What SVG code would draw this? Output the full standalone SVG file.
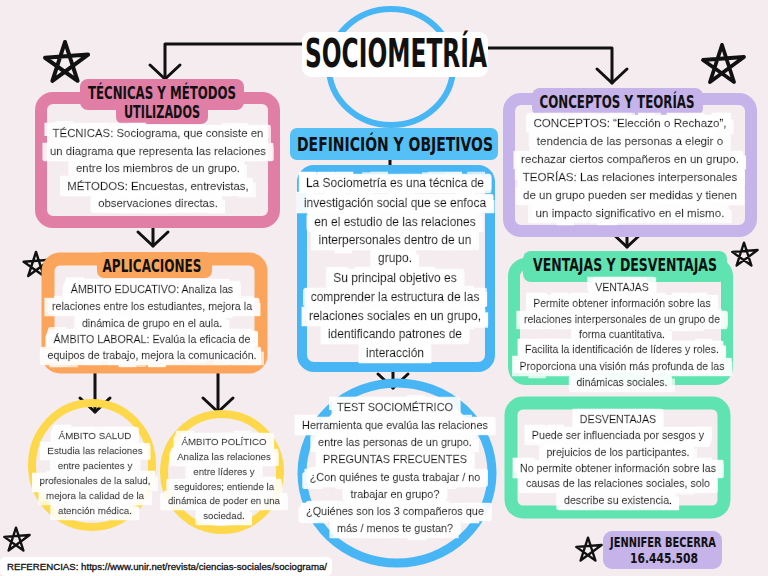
<svg xmlns="http://www.w3.org/2000/svg" width="768" height="576" viewBox="0 0 768 576">
<defs>
<style>
.hd{font-family:"DejaVu Sans Condensed","DejaVu Sans",sans-serif;font-weight:bold;fill:#111;text-anchor:middle}
.bd{font-family:"Liberation Sans",Arial,sans-serif;fill:#111;stroke:#111;stroke-width:0.3;text-anchor:middle}
.ln{fill:none;stroke:#111;stroke-width:3;stroke-linecap:round;stroke-linejoin:round}
.star{fill:none;stroke:#111;stroke-width:3.8;stroke-linecap:round;stroke-linejoin:round}
.hl{filter:url(#hl)}
</style>
<filter id="hl" x="-20%" y="-30%" width="140%" height="160%">
<feMorphology in="SourceAlpha" operator="dilate" radius="8 5.5" result="d"/>
<feFlood flood-color="#ffffff"/>
<feComposite in2="d" operator="in" result="bg"/>
<feMerge><feMergeNode in="bg"/><feMergeNode in="SourceGraphic"/></feMerge>
</filter>
<marker id="ah" markerUnits="userSpaceOnUse" markerWidth="40" markerHeight="40" viewBox="-20 -20 40 40" refX="0" refY="0" orient="auto" overflow="visible">
<path d="M-14,-15 L0,0 L-14,15" fill="none" stroke="#111" stroke-width="3" stroke-linecap="round" stroke-linejoin="round"/>
</marker>
<path id="star" class="star" d="M0,-20 L12,17 L-19,-5 L22,-8 L-12,17 L0,-20"/>
</defs>
<rect width="768" height="576" fill="#f4ecee"/>

<g id="connectors">
<path class="ln" d="M302,44 L165,44 L165,79" marker-end="url(#ah)"/>
<path class="ln" d="M488,48 L612,48 L612,83" marker-end="url(#ah)"/>
<path class="ln" d="M153,224 L153,246" marker-end="url(#ah)"/>
<path class="ln" d="M390,159 L390,172"/>
<path class="ln" d="M393,368 L393,388" marker-end="url(#ah)"/>
<path class="ln" d="M627,232 L627,247" marker-end="url(#ah)"/>
<path class="ln" d="M95,370 L95,412" marker-end="url(#ah)"/>
<path class="ln" d="M218,370 L218,412" marker-end="url(#ah)"/>
</g>

<g id="stars">
<use href="#star" transform="translate(65,63) scale(1.05)"/>
<use href="#star" transform="translate(722,65)"/>
<use href="#star" transform="translate(36,265) scale(0.65)"/>
<use href="#star" transform="translate(744,255) scale(0.62)"/>
<use href="#star" transform="translate(16,540) scale(0.62)"/>
<use href="#star" transform="translate(588,550) scale(0.62)"/>
</g>

<g id="sociometria">
<ellipse cx="391" cy="67" rx="62" ry="58" fill="none" stroke="#48b6f5" stroke-width="6"/>
<rect x="302" y="32" width="186" height="45" rx="9" fill="#ffffff"/>
<text class="hd" x="396" y="67" font-size="39" textLength="182" lengthAdjust="spacingAndGlyphs">SOCIOMETRÍA</text>
</g>

<g id="tecnicas">
<rect x="41" y="98" width="233" height="124" rx="12" fill="none" stroke="#e07ea6" stroke-width="12"/>
<rect x="80" y="79" width="164" height="31" rx="8" fill="#e07ea6"/>
<rect x="116" y="100" width="92" height="24" rx="7" fill="#e07ea6"/>
<g class="hl">
<text class="bd" font-size="11.4" x="158" y="137">TÉCNICAS: Sociograma, que consiste en</text>
<text class="bd" font-size="11.4" x="158" y="155">un diagrama que representa las relaciones</text>
<text class="bd" font-size="11.4" x="158" y="172">entre los miembros de un grupo.</text>
<text class="bd" font-size="11.4" x="158" y="190">MÉTODOS: Encuestas, entrevistas,</text>
<text class="bd" font-size="11.4" x="158" y="207">observaciones directas.</text>
</g>
<text class="hd" x="162" y="99" font-size="18" textLength="148" lengthAdjust="spacingAndGlyphs">TÉCNICAS Y MÉTODOS</text>
<text class="hd" x="162" y="118" font-size="18" textLength="76" lengthAdjust="spacingAndGlyphs">UTILIZADOS</text>
</g>

<g id="definicion">
<rect x="290" y="128" width="208" height="32" rx="7" fill="#55c0f5"/>
<rect x="302" y="170" width="188" height="197" rx="12" fill="none" stroke="#48b6f5" stroke-width="10"/>
<g class="hl">
<text class="bd" font-size="12" x="395" y="187">La Sociometría es una técnica de</text>
<text class="bd" font-size="12" x="395" y="207">investigación social que se enfoca</text>
<text class="bd" font-size="12" x="395" y="226">en el estudio de las relaciones</text>
<text class="bd" font-size="12" x="395" y="244">interpersonales dentro de un</text>
<text class="bd" font-size="12" x="395" y="262">grupo.</text>
<text class="bd" font-size="12" x="395" y="282">Su principal objetivo es</text>
<text class="bd" font-size="12" x="395" y="301">comprender la estructura de las</text>
<text class="bd" font-size="12" x="395" y="320">relaciones sociales en un grupo,</text>
<text class="bd" font-size="12" x="395" y="338">identificando patrones de</text>
<text class="bd" font-size="12" x="395" y="357">interacción</text>
</g>
<text class="hd" x="395" y="151" font-size="20" textLength="196" lengthAdjust="spacingAndGlyphs">DEFINICIÓN Y OBJETIVOS</text>
</g>

<g id="test">
<ellipse cx="397" cy="473" rx="95" ry="90" fill="none" stroke="#48b6f5" stroke-width="9"/>
<g class="hl">
<text class="bd" font-size="10.9" x="395" y="411">TEST SOCIOMÉTRICO</text>
<text class="bd" font-size="10.9" x="395" y="429">Herramienta que evalúa las relaciones</text>
<text class="bd" font-size="10.9" x="395" y="446">entre las personas de un grupo.</text>
<text class="bd" font-size="10.9" x="395" y="463">PREGUNTAS FRECUENTES</text>
<text class="bd" font-size="10.9" x="395" y="481">¿Con quiénes te gusta trabajar / no</text>
<text class="bd" font-size="10.9" x="395" y="498">trabajar en grupo?</text>
<text class="bd" font-size="10.9" x="395" y="515">¿Quiénes son los 3 compañeros que</text>
<text class="bd" font-size="10.9" x="395" y="532">más / menos te gustan?</text>
</g>
</g>

<g id="conceptos">
<rect x="509" y="99" width="242" height="132" rx="12" fill="none" stroke="#c5b3e9" stroke-width="12"/>
<rect x="532" y="88" width="171" height="28" rx="8" fill="#c5b3e9"/>
<g class="hl">
<text class="bd" font-size="11.6" x="630" y="127">CONCEPTOS: “Elección o Rechazo”,</text>
<text class="bd" font-size="11.6" x="630" y="145">tendencia de las personas a elegir o</text>
<text class="bd" font-size="11.6" x="630" y="163">rechazar ciertos compañeros en un grupo.</text>
<text class="bd" font-size="11.6" x="630" y="181">TEORÍAS: Las relaciones interpersonales</text>
<text class="bd" font-size="11.6" x="630" y="199">de un grupo pueden ser medidas y tienen</text>
<text class="bd" font-size="11.6" x="630" y="217">un impacto significativo en el mismo.</text>
</g>
<text class="hd" x="617" y="108" font-size="17" textLength="155" lengthAdjust="spacingAndGlyphs">CONCEPTOS Y TEORÍAS</text>
</g>

<g id="ventajas">
<rect x="514" y="264" width="213" height="115" rx="12" fill="none" stroke="#5ee3b1" stroke-width="12"/>
<rect x="523" y="251" width="204" height="31" rx="8" fill="#5ee3b1"/>
<g class="hl">
<text class="bd" font-size="10.5" x="622" y="291">VENTAJAS</text>
<text class="bd" font-size="10.5" x="622" y="307">Permite obtener información sobre las</text>
<text class="bd" font-size="10.5" x="622" y="323">relaciones interpersonales de un grupo de</text>
<text class="bd" font-size="10.5" x="622" y="338">forma cuantitativa.</text>
<text class="bd" font-size="10.5" x="622" y="353">Facilita la identificación de líderes y roles.</text>
<text class="bd" font-size="10.5" x="622" y="370">Proporciona una visión más profunda de las</text>
<text class="bd" font-size="10.5" x="622" y="386">dinámicas sociales.</text>
</g>
<text class="hd" x="625" y="271" font-size="18" textLength="184" lengthAdjust="spacingAndGlyphs">VENTAJAS Y DESVENTAJAS</text>
</g>

<g id="desventajas">
<rect x="511" y="403" width="213" height="109" rx="12" fill="none" stroke="#5ee3b1" stroke-width="13"/>
<g class="hl">
<text class="bd" font-size="10.7" x="618" y="423">DESVENTAJAS</text>
<text class="bd" font-size="10.7" x="618" y="439">Puede ser influenciada por sesgos y</text>
<text class="bd" font-size="10.7" x="618" y="456">prejuicios de los participantes.</text>
<text class="bd" font-size="10.7" x="618" y="472">No permite obtener información sobre las</text>
<text class="bd" font-size="10.7" x="618" y="487">causas de las relaciones sociales, solo</text>
<text class="bd" font-size="10.7" x="618" y="504">describe su existencia.</text>
</g>
</g>

<g id="aplicaciones">
<rect x="48" y="259" width="213" height="108" rx="12" fill="none" stroke="#fba55c" stroke-width="13"/>
<rect x="97" y="252" width="115" height="26" rx="7" fill="#fba55c"/>
<g class="hl">
<text class="bd" font-size="10.7" x="152" y="293">ÁMBITO EDUCATIVO: Analiza las</text>
<text class="bd" font-size="10.7" x="152" y="310">relaciones entre los estudiantes, mejora la</text>
<text class="bd" font-size="10.7" x="152" y="327">dinámica de grupo en el aula.</text>
<text class="bd" font-size="10.7" x="152" y="343">ÁMBITO LABORAL: Evalúa la eficacia de</text>
<text class="bd" font-size="10.7" x="152" y="359">equipos de trabajo, mejora la comunicación.</text>
</g>
<text class="hd" x="152" y="272" font-size="17" textLength="99" lengthAdjust="spacingAndGlyphs">APLICACIONES</text>
</g>

<g id="salud">
<ellipse cx="92" cy="465" rx="60" ry="62" fill="none" stroke="#fcd84a" stroke-width="8"/>
<g class="hl">
<text class="bd" font-size="9.8" x="95" y="439">ÁMBITO SALUD</text>
<text class="bd" font-size="9.8" x="95" y="454">Estudia las relaciones</text>
<text class="bd" font-size="9.8" x="95" y="469">entre pacientes y</text>
<text class="bd" font-size="9.8" x="95" y="484">profesionales de la salud,</text>
<text class="bd" font-size="9.8" x="95" y="499">mejora la calidad de la</text>
<text class="bd" font-size="9.8" x="95" y="514">atención médica.</text>
</g>
</g>

<g id="politico">
<ellipse cx="222" cy="472" rx="58" ry="58" fill="none" stroke="#fcd84a" stroke-width="8"/>
<g class="hl">
<text class="bd" font-size="9.7" x="224" y="445">ÁMBITO POLÍTICO</text>
<text class="bd" font-size="9.7" x="224" y="460">Analiza las relaciones</text>
<text class="bd" font-size="9.7" x="224" y="475">entre líderes y</text>
<text class="bd" font-size="9.7" x="224" y="490">seguidores; entiende la</text>
<text class="bd" font-size="9.7" x="224" y="504">dinámica de poder en una</text>
<text class="bd" font-size="9.7" x="224" y="519">sociedad.</text>
</g>
</g>

<g id="autor">
<rect x="603" y="531" width="119" height="38" rx="9" fill="#c5b3e9"/>
<text class="hd" x="663" y="547" font-size="14" textLength="106" lengthAdjust="spacingAndGlyphs">JENNIFER BECERRA</text>
<text class="hd" x="664" y="563" font-size="14" textLength="68" lengthAdjust="spacingAndGlyphs">16.445.508</text>
</g>

<g id="referencias">
<rect x="0" y="557" width="332" height="19" rx="5" fill="#ffffff"/>
<text class="bd" font-size="9.6" x="7" y="570" style="text-anchor:start" textLength="320" lengthAdjust="spacingAndGlyphs">REFERENCIAS: https://www.unir.net/revista/ciencias-sociales/sociograma/</text>
</g>
</svg>
